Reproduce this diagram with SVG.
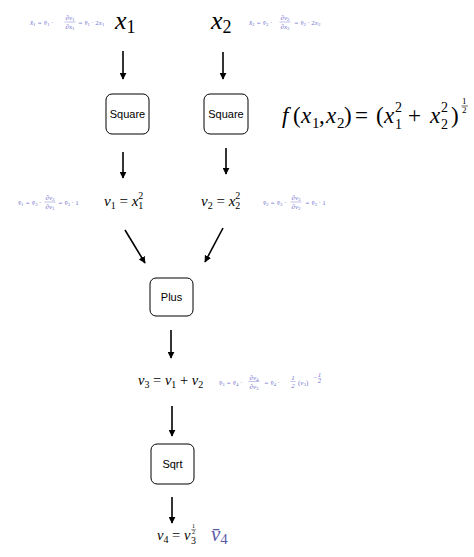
<svg xmlns="http://www.w3.org/2000/svg" width="474" height="557" viewBox="0 0 474 557">
<defs>
<marker id="ah" viewBox="0 0 10 10" refX="9" refY="5" markerWidth="7" markerHeight="7" markerUnits="userSpaceOnUse" orient="auto">
<path d="M0,0 L10,5 L0,10 z" fill="#000"/>
</marker>
<style>
.m{font-family:"Liberation Serif",serif;font-style:italic;fill:#000}
.u{font-style:normal}
.ann{font-family:"Liberation Serif",serif;font-style:italic;font-size:7px;fill:#7676d0}
.s{font-size:5px;font-style:normal}
.box{fill:#fff;stroke:#000;stroke-width:1}
.lbl{font-family:"Liberation Sans",Arial,sans-serif;font-size:11px;fill:#000;text-anchor:middle}
.edge{stroke:#000;stroke-width:1.6;fill:none;marker-end:url(#ah)}
.fb{stroke:#7676d0;stroke-width:0.45}
.mid{text-anchor:middle}
</style>
</defs>
<rect width="474" height="557" fill="#fff"/>

<g id="connectors">
<line class="edge" x1="123" y1="51" x2="123" y2="79"/>
<line class="edge" x1="223" y1="52" x2="223" y2="79"/>
<line class="edge" x1="123" y1="152" x2="123" y2="178"/>
<line class="edge" x1="226" y1="148" x2="226" y2="174"/>
<line class="edge" x1="125" y1="230" x2="145" y2="263"/>
<line class="edge" x1="223" y1="228" x2="205" y2="262"/>
<line class="edge" x1="171" y1="330" x2="171" y2="358"/>
<line class="edge" x1="172" y1="406" x2="172" y2="436"/>
<line class="edge" x1="172" y1="497" x2="172" y2="523"/>
</g>

<g id="x1">
<text class="m" x="115" y="29" font-size="26">x<tspan class="u" font-size="18" dy="4">1</tspan></text>
</g>
<g id="x2">
<text class="m" x="211" y="29" font-size="26">x<tspan class="u" font-size="18" dy="4">2</tspan></text>
</g>

<g id="ann-x1">
<text class="ann" x="30" y="24.5">x̄<tspan class="s" dy="1.2">1</tspan><tspan dy="-1.2"> = v̄</tspan><tspan class="s" dy="1.2">1</tspan><tspan dy="-1.2"> ·</tspan></text>
<text class="ann mid" x="70" y="20">∂v<tspan class="s" dy="1.2">1</tspan></text>
<line class="fb" x1="64.5" y1="22" x2="75.5" y2="22"/>
<text class="ann mid" x="70" y="28.5">∂x<tspan class="s" dy="1.2">1</tspan></text>
<text class="ann" x="78" y="24.5">= v̄<tspan class="s" dy="1.2">1</tspan><tspan dy="-1.2"> · </tspan><tspan class="u">2</tspan>x<tspan class="s" dy="1.2">1</tspan></text>
</g>

<g id="ann-x2">
<text class="ann" x="249" y="24.5">x̄<tspan class="s" dy="1.2">2</tspan><tspan dy="-1.2"> = v̄</tspan><tspan class="s" dy="1.2">2</tspan><tspan dy="-1.2"> ·</tspan></text>
<text class="ann mid" x="285" y="20">∂v<tspan class="s" dy="1.2">2</tspan></text>
<line class="fb" x1="279.5" y1="22" x2="290.5" y2="22"/>
<text class="ann mid" x="285" y="28.5">∂x<tspan class="s" dy="1.2">2</tspan></text>
<text class="ann" x="294" y="24.5">= v̄<tspan class="s" dy="1.2">2</tspan><tspan dy="-1.2"> · </tspan><tspan class="u">2</tspan>x<tspan class="s" dy="1.2">2</tspan></text>
</g>

<g id="square1">
<rect class="box" x="106" y="94" width="43" height="40" rx="6"/>
<text class="lbl" x="127.5" y="118">Square</text>
</g>
<g id="square2">
<rect class="box" x="204" y="94" width="44" height="40" rx="6"/>
<text class="lbl" x="226" y="118">Square</text>
</g>

<g id="f-formula" class="m" font-size="23">
<text x="282" y="123">f</text>
<text class="u" x="293" y="123">(</text>
<text x="301" y="123">x</text>
<text class="u" x="312" y="128" font-size="15">1</text>
<text class="u" x="319" y="123">,</text>
<text x="326" y="123">x</text>
<text class="u" x="337" y="128" font-size="15">2</text>
<text class="u" x="344" y="123">)</text>
<text class="u" x="355" y="123">=</text>
<text class="u" x="376" y="123">(</text>
<text x="384" y="123">x</text>
<text class="u" x="395" y="112" font-size="14">2</text>
<text class="u" x="395" y="129" font-size="14">1</text>
<text class="u" x="408" y="123">+</text>
<text x="430" y="123">x</text>
<text class="u" x="441" y="112" font-size="14">2</text>
<text class="u" x="441" y="129" font-size="14">2</text>
<text class="u" x="451" y="123">)</text>
<text class="u" x="462" y="104" font-size="9">1</text>
<line x1="461.5" y1="106" x2="468" y2="106" stroke="#000" stroke-width="0.6"/>
<text class="u" x="462" y="113" font-size="9">2</text>
</g>

<g id="ann-v1">
<text class="ann" x="18" y="204.5">v̄<tspan class="s" dy="1.2">1</tspan><tspan dy="-1.2"> = v̄</tspan><tspan class="s" dy="1.2">3</tspan><tspan dy="-1.2"> ·</tspan></text>
<text class="ann mid" x="50" y="200">∂v<tspan class="s" dy="1.2">3</tspan></text>
<line class="fb" x1="44.5" y1="202" x2="55.5" y2="202"/>
<text class="ann mid" x="50" y="208.5">∂v<tspan class="s" dy="1.2">1</tspan></text>
<text class="ann" x="58" y="204.5">= v̄<tspan class="s" dy="1.2">3</tspan><tspan dy="-1.2"> · </tspan><tspan class="u">1</tspan></text>
</g>

<g id="v1">
<text class="m" x="104" y="206" font-size="15">v<tspan class="u" font-size="10" dy="3">1</tspan><tspan class="u" dy="-3"> = </tspan>x<tspan class="u" font-size="10" dy="-7">2</tspan><tspan class="u" font-size="10" dx="-5" dy="10">1</tspan></text>
</g>
<g id="v2">
<text class="m" x="201" y="206" font-size="15">v<tspan class="u" font-size="10" dy="3">2</tspan><tspan class="u" dy="-3"> = </tspan>x<tspan class="u" font-size="10" dy="-7">2</tspan><tspan class="u" font-size="10" dx="-5" dy="10">2</tspan></text>
</g>

<g id="ann-v2">
<text class="ann" x="263" y="204.5">v̄<tspan class="s" dy="1.2">2</tspan><tspan dy="-1.2"> = v̄</tspan><tspan class="s" dy="1.2">3</tspan><tspan dy="-1.2"> ·</tspan></text>
<text class="ann mid" x="296" y="200">∂v<tspan class="s" dy="1.2">3</tspan></text>
<line class="fb" x1="290.5" y1="202" x2="301.5" y2="202"/>
<text class="ann mid" x="296" y="208.5">∂v<tspan class="s" dy="1.2">2</tspan></text>
<text class="ann" x="305" y="204.5">= v̄<tspan class="s" dy="1.2">3</tspan><tspan dy="-1.2"> · </tspan><tspan class="u">1</tspan></text>
</g>

<g id="plus">
<rect class="box" x="150" y="278" width="43" height="38" rx="6"/>
<text class="lbl" x="171.5" y="301">Plus</text>
</g>

<g id="v3">
<text class="m" x="138" y="385" font-size="14.5">v<tspan class="u" font-size="10" dy="3">3</tspan><tspan class="u" dy="-3"> = </tspan>v<tspan class="u" font-size="10" dy="3">1</tspan><tspan class="u" dy="-3"> + </tspan>v<tspan class="u" font-size="10" dy="3">2</tspan></text>
</g>

<g id="ann-v3">
<text class="ann" x="219" y="384.5">v̄<tspan class="s" dy="1.2">3</tspan><tspan dy="-1.2"> = v̄</tspan><tspan class="s" dy="1.2">4</tspan><tspan dy="-1.2"> ·</tspan></text>
<text class="ann mid" x="254" y="379.5">∂v<tspan class="s" dy="1.2">4</tspan></text>
<line class="fb" x1="248.5" y1="381.5" x2="259.5" y2="381.5"/>
<text class="ann mid" x="254" y="388.5">∂v<tspan class="s" dy="1.2">3</tspan></text>
<text class="ann" x="264" y="384.5">= v̄<tspan class="s" dy="1.2">4</tspan><tspan dy="-1.2"> ·</tspan></text>
<text class="ann u mid" x="293" y="379.5" font-size="6">1</text>
<line class="fb" x1="290.5" y1="381.5" x2="295.5" y2="381.5"/>
<text class="ann u mid" x="293" y="388" font-size="6">2</text>
<text class="ann" x="298" y="384.5"><tspan class="u">(</tspan>v<tspan class="s" dy="1.2">3</tspan><tspan class="u" dy="-1.2">)</tspan></text>
<text class="ann u" x="313" y="380" font-size="5">−</text>
<text class="ann u mid" x="319.5" y="376.8" font-size="3.6">1</text>
<line class="fb" x1="318" y1="378.4" x2="321" y2="378.4" stroke-width="0.3"/>
<text class="ann u mid" x="319.5" y="382.8" font-size="3.6">2</text>
</g>

<g id="sqrt">
<rect class="box" x="151" y="444" width="43" height="40" rx="6"/>
<text class="lbl" x="172.5" y="468">Sqrt</text>
</g>

<g id="v4">
<text class="m" x="157" y="540" font-size="14.5">v<tspan class="u" font-size="10" dy="3">4</tspan><tspan class="u" dy="-3"> = </tspan>v</text>
<text class="m u" x="191" y="544" font-size="10">3</text>
<text class="m u" x="192" y="528" font-size="6">1</text>
<line x1="191.3" y1="529.6" x2="196" y2="529.6" stroke="#000" stroke-width="0.4"/>
<text class="m u" x="192" y="534" font-size="6">2</text>
</g>

<g id="vbar4">
<text class="m" x="211" y="541" font-size="21" style="fill:#5a5aaa">v̄<tspan class="u" font-size="15" dy="3">4</tspan></text>
</g>
</svg>
